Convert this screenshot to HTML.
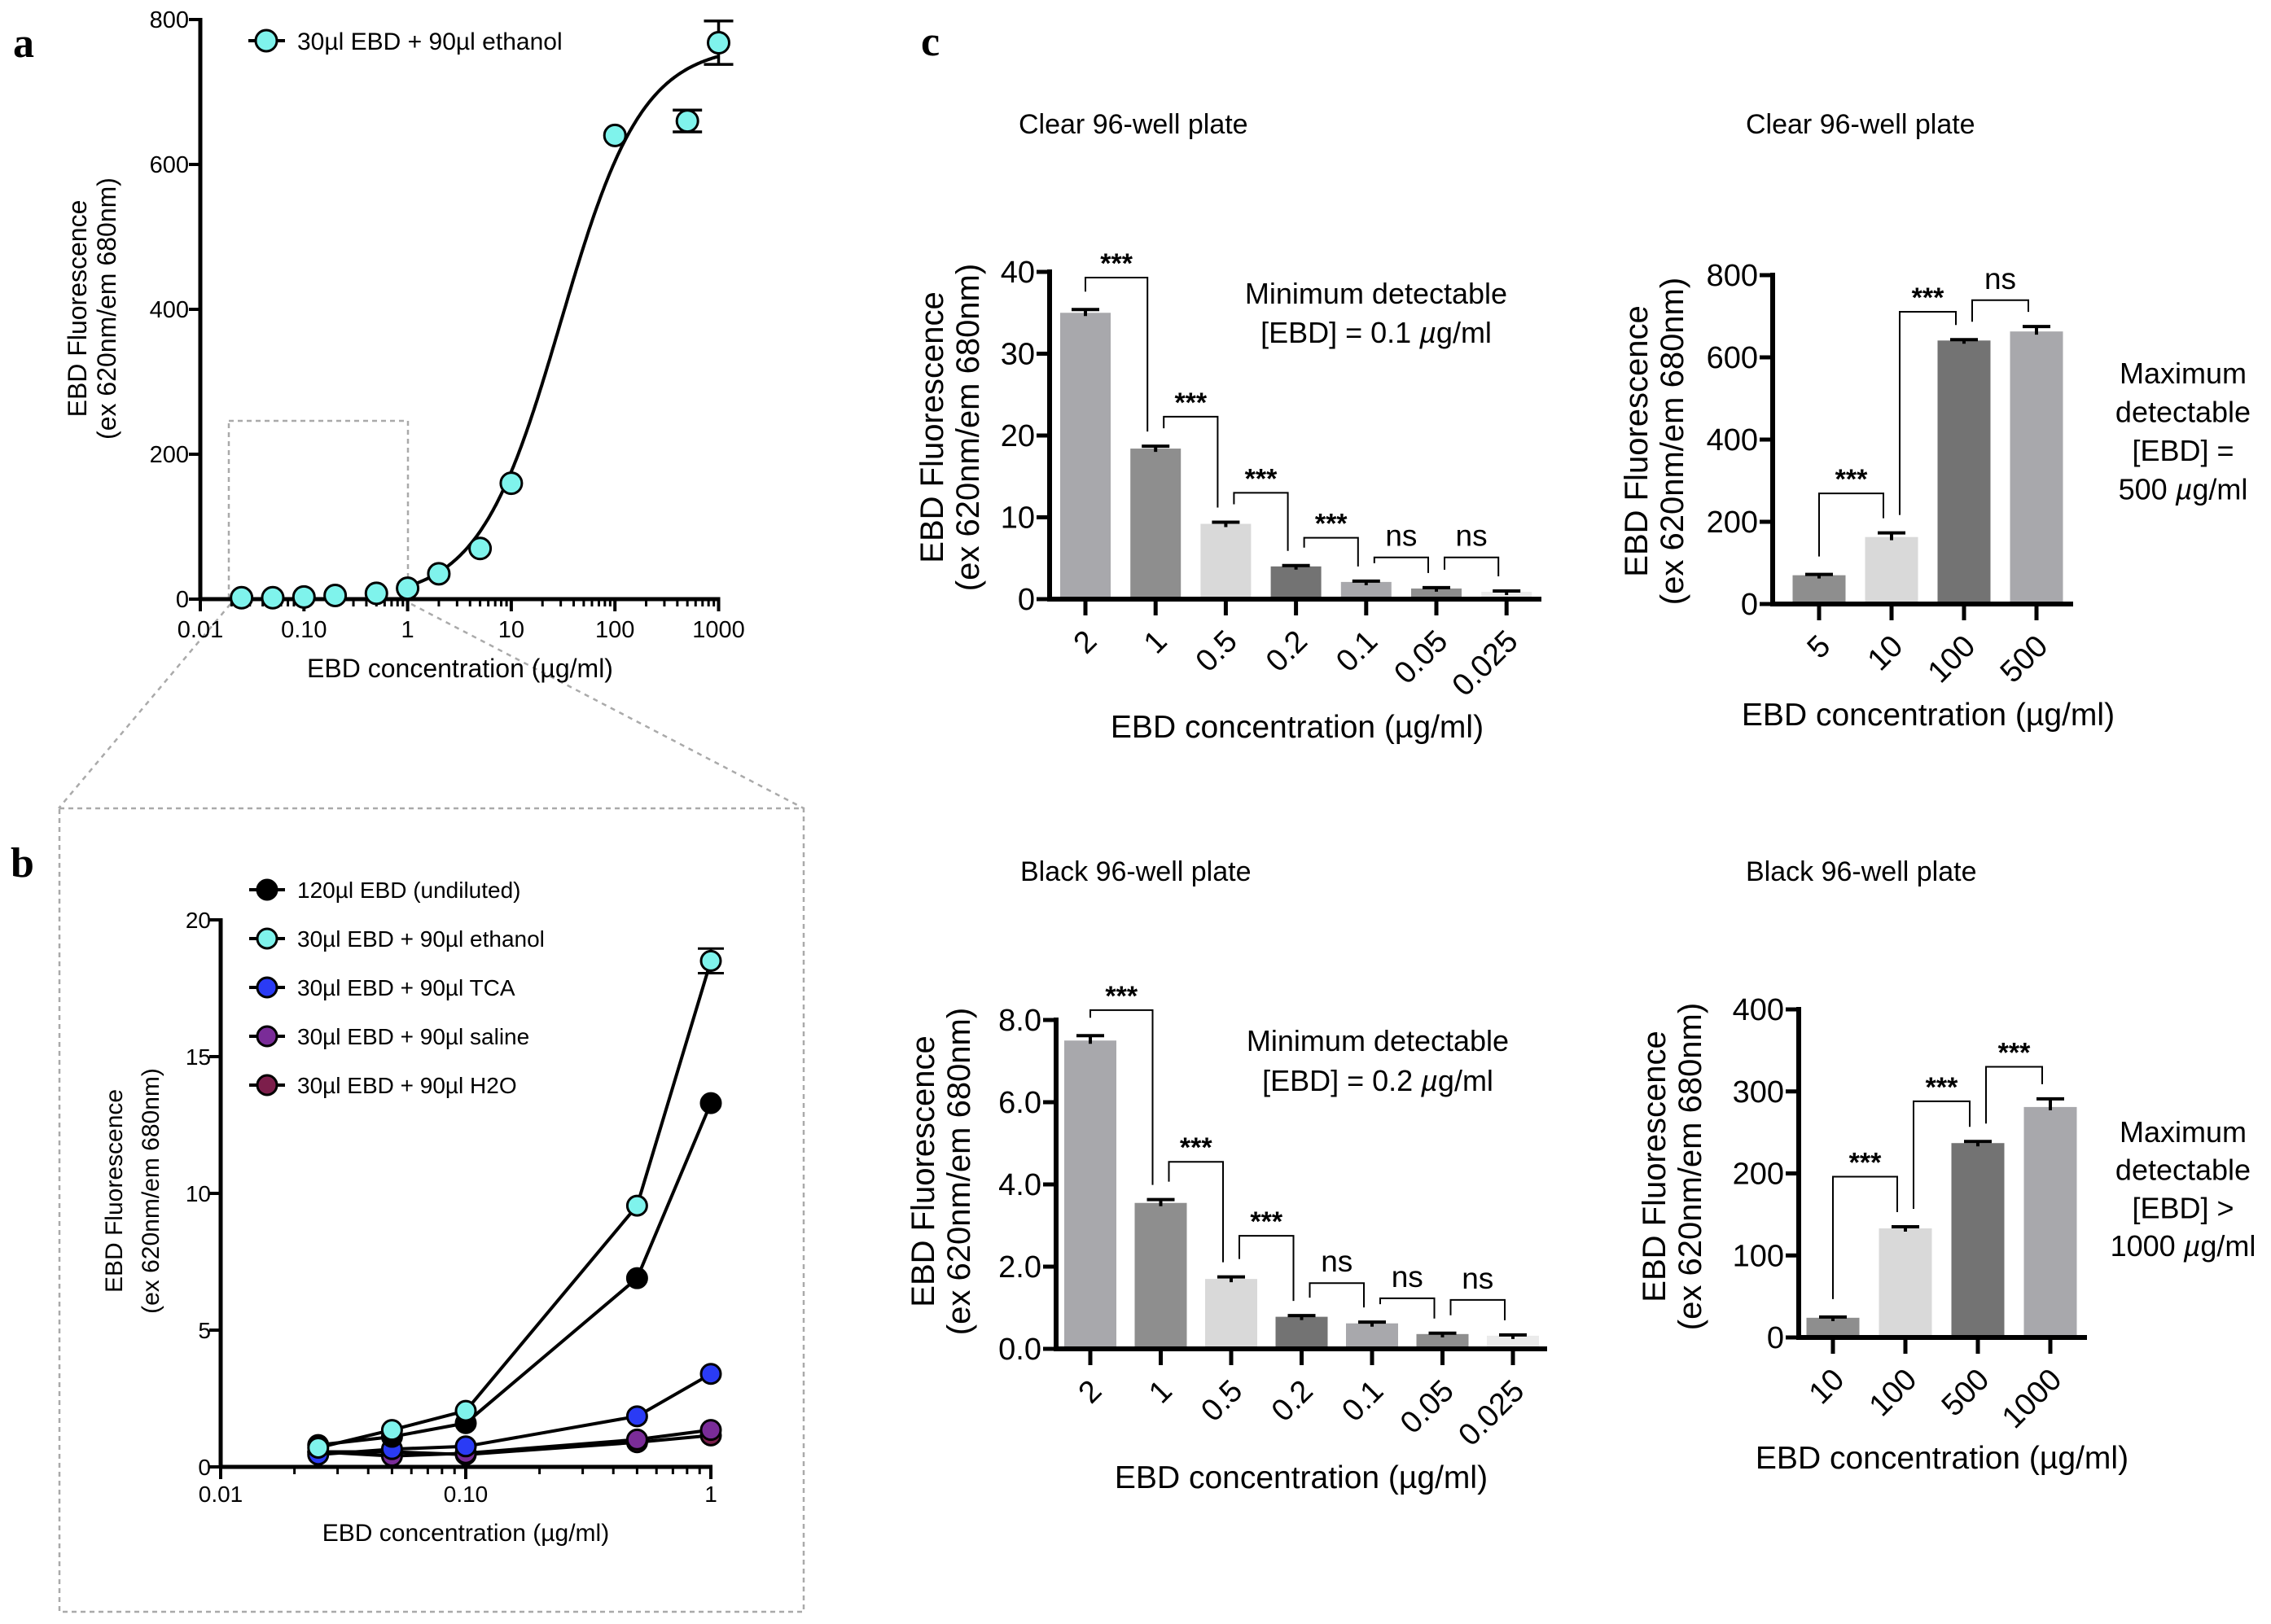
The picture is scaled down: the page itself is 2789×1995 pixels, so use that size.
<!DOCTYPE html>
<html><head><meta charset="utf-8"><style>
html,body{margin:0;padding:0;background:#fff}
svg{display:block}
text{font-family:"Liberation Sans",sans-serif;fill:#000}
text.serif{font-family:"Liberation Serif",serif}
</style></head><body>
<svg id="fig" xmlns="http://www.w3.org/2000/svg" width="2789" height="1995" viewBox="0 0 2789 1995"></svg>
<script>
// ---------- Panel a data ----------
const aConc = [0.025,0.05,0.1,0.2,0.5,1,2,5,10,100,500,1000];
const aFluor = [2,2,3,5,8,15,35,70,160,640,660,768];
const aErr = [0,0,0,0,0,0,0,0,0,0,15,30];
const aFitTop = [765];
const aFitEC50 = [30];
const aFitHill = [1.1];
const aXTicks = [0.01,0.1,1,10,100,1000];
const aXTickLabels = ["0.01","0.10","1","10","100","1000"];
const aYTicks = [0,200,400,600,800];
// ---------- Panel b data ----------
const bConc = [0.025,0.05,0.1,0.5,1];
const bUndiluted = [0.8,1.1,1.6,6.9,13.3];
const bEthanol = [0.7,1.35,2.05,9.55,18.5];
const bTCA = [0.45,0.65,0.75,1.85,3.4];
const bSaline = [0.55,0.4,0.5,1.0,1.35];
const bH2O = [0.55,0.55,0.45,0.9,1.15];
const bEthanolErr = [0,0,0,0,0.45];
const bSeriesNames = ["120µl EBD (undiluted)","30µl EBD + 90µl ethanol","30µl EBD + 90µl TCA","30µl EBD + 90µl saline","30µl EBD + 90µl H2O"];
const bXTicks = [0.01,0.1,1];
const bXTickLabels = ["0.01","0.10","1"];
const bYTicks = [0,5,10,15,20];
// ---------- Panel c data ----------
const c1Cats = ["2","1","0.5","0.2","0.1","0.05","0.025"];
const c1Vals = [35,18.4,9.2,4.0,2.1,1.3,0.9];
const c1Errs = [0.4,0.3,0.2,0.1,0.1,0.1,0.1];
const c1Brackets = [39.3,22.3,13,7.5,5.1,5.1];
const c1Sig = ["***","***","***","***","ns","ns"];
const c1YTicks = [0,10,20,30,40];
const c1YLabels = ["0","10","20","30","40"];

const c2Cats = ["5","10","100","500"];
const c2Vals = [70,163,641,663];
const c2Errs = [2,10,2,12];
const c2Brackets = [269,711,739];
const c2Sig = ["***","***","ns"];
const c2YTicks = [0,200,400,600,800];
const c2YLabels = ["0","200","400","600","800"];

const c3Cats = ["2","1","0.5","0.2","0.1","0.05","0.025"];
const c3Vals = [7.5,3.55,1.7,0.78,0.62,0.36,0.32];
const c3Errs = [0.12,0.08,0.05,0.03,0.03,0.02,0.02];
const c3Brackets = [8.24,4.55,2.75,1.6,1.23,1.19];
const c3Sig = ["***","***","***","ns","ns","ns"];
const c3YTicks = [0,2,4,6,8];
const c3YLabels = ["0.0","2.0","4.0","6.0","8.0"];

const c4Cats = ["10","100","500","1000"];
const c4Vals = [24,133,237,281];
const c4Errs = [1,2,2,10];
const c4Brackets = [196,288,330];
const c4Sig = ["***","***","***"];
const c4YTicks = [0,100,200,300,400];
const c4YLabels = ["0","100","200","300","400"];

const NS = "http://www.w3.org/2000/svg";
const svg = document.getElementById('fig');
function mk(tag, attrs, parent){
  const e = document.createElementNS(NS, tag);
  for (const k in attrs) e.setAttribute(k, attrs[k]);
  (parent||svg).appendChild(e);
  return e;
}
function txt(s, attrs, parent){ const e = mk('text', attrs, parent); e.textContent = s; return e; }
function line(x1,y1,x2,y2,w,parent,dash){
  const a = {x1:x1,y1:y1,x2:x2,y2:y2,stroke:'#000','stroke-width':w};
  if (dash){ a.stroke='#aaa'; a['stroke-dasharray']=dash; }
  return mk('line', a, parent);
}
function rotTitle(lines, cx, cy, size, gap, parent){
  lines.forEach((s,i)=>{
    const x = cx + i*gap;
    const t = txt(s,{x:0,y:0,'text-anchor':'middle','font-size':size,transform:`translate(${x},${cy}) rotate(-90)`},parent);
    
    
  });
}
const log10 = Math.log10;

// ---------- decorations ----------
let e;
e = txt('a',{x:16,y:70,'font-size':52,'font-weight':'bold','class':'serif'});
 
e = txt('b',{x:13,y:1077,'font-size':52,'font-weight':'bold','class':'serif'});
 
e = txt('c',{x:1131,y:68,'font-size':52,'font-weight':'bold','class':'serif'});
 

e = mk('rect',{x:281,y:517,width:220,height:219,fill:'none',stroke:'#aaa','stroke-width':2.5,'stroke-dasharray':'6,5'});
 
e = line(283,742,72,993,2.5,null,'6,6');
 
e = line(505,742,987,993,2.5,null,'6,6');
 
e = mk('rect',{x:73,y:993,width:914,height:987,fill:'none',stroke:'#aaa','stroke-width':2.5,'stroke-dasharray':'6,5'});
 

// ---------- Panel a ----------
(function(){
  const g = mk('g',{});
   
  const x0=246, dec=127.3, y0=736, ytop=24, ymax=800;
  const X = v => x0 + dec*log10(v/0.01);
  const Y = v => y0 - v*(y0-ytop)/ymax;
  let ax = line(x0,ytop-2,x0,y0+2,5,g);  
  ax = line(x0-2,y0,X(1000)+2,y0,5,g);  
  aYTicks.forEach(v=>{
    const t=line(x0-14,Y(v),x0,Y(v),4,g);  
    const l=txt(String(v),{x:x0-14,y:Y(v)+10,'text-anchor':'end','font-size':29},g);  
  });
  for(let d=-2; d<3; d++){ for(let m=2;m<10;m++){ const v=m*Math.pow(10,d);
    const t=line(X(v),y0,X(v),y0+9,3,g);   } }
  aXTicks.forEach((v,i)=>{
    const t=line(X(v),y0,X(v),y0+15,4,g);  
    const l=txt(aXTickLabels[i],{x:X(v),y:y0+47,'text-anchor':'middle','font-size':29},g);  
  });
  let tt = txt('EBD concentration (µg/ml)',{x:565,y:832,'text-anchor':'middle','font-size':32},g);
   
  rotTitle(['EBD Fluorescence','(ex 620nm/em 680nm)'],106,379,32,36,g);
  let d='';
  for(let k=0;k<=200;k++){ const lv = log10(0.9) + k*(log10(1000)-log10(0.9))/200; const v=Math.pow(10,lv);
    const y = aFitTop[0]/(1+Math.pow(aFitEC50[0]/v,aFitHill[0])); d += (k?'L':'M')+X(v).toFixed(1)+','+Y(y).toFixed(1); }
  const c = mk('path',{d:d,fill:'none',stroke:'#000','stroke-width':4},g);
   
  aConc.forEach((v,i)=>{
    if(aErr[i]>0){
      const eb=mk('path',{d:`M${X(v)-18},${Y(aFluor[i]+aErr[i])}H${X(v)+18}M${X(v)},${Y(aFluor[i]+aErr[i])}V${Y(aFluor[i]-aErr[i])}M${X(v)-18},${Y(aFluor[i]-aErr[i])}H${X(v)+18}`,stroke:'#000','stroke-width':3.5,fill:'none'},g);
       
    }
    const p=mk('circle',{cx:X(v),cy:Y(aFluor[i]),r:13,fill:'#7ff3ec',stroke:'#000','stroke-width':3},g);
     
  });
  const lg = mk('g',{},g);  
  line(305,50,350,50,4,lg);
  mk('circle',{cx:327,cy:50,r:13,fill:'#7ff3ec',stroke:'#000','stroke-width':3},lg);
  txt('30µl EBD + 90µl ethanol',{x:365,y:61,'font-size':30},lg);
})();

// ---------- Panel b ----------
(function(){
  const g = mk('g',{});
   
  const x0=271, dec=301, y0=1802, ytop=1130, ymax=20;
  const X = v => x0 + dec*log10(v/0.01);
  const Y = v => y0 - v*(y0-ytop)/ymax;
  let ax=line(x0,ytop-2,x0,y0+2,5,g);  
  ax=line(x0-2,y0,X(1)+2,y0,5,g);  
  bYTicks.forEach(v=>{
    const t=line(x0-14,Y(v),x0,Y(v),4,g);  
    const l=txt(String(v),{x:x0-12,y:Y(v)+10,'text-anchor':'end','font-size':28},g);  
  });
  for(let d=-2; d<0; d++){ for(let m=2;m<10;m++){ const v=m*Math.pow(10,d);
    const t=line(X(v),y0,X(v),y0+9,3,g);   } }
  bXTicks.forEach((v,i)=>{
    const t=line(X(v),y0,X(v),y0+15,4,g);  
    const l=txt(bXTickLabels[i],{x:X(v),y:y0+43,'text-anchor':'middle','font-size':28},g);  
  });
  let tt=txt('EBD concentration (µg/ml)',{x:572,y:1893,'text-anchor':'middle','font-size':30},g);
   
  rotTitle(['EBD Fluorescence','(ex 620nm/em 680nm)'],150,1463,30,45,g);
  const series = [bH2O,bSaline,bTCA,bUndiluted,bEthanol];
  const colors = ['#7c1e4b','#7a2c98','#2a3bf5','#000000','#7ff3ec'];
  series.forEach((s,si)=>{
    const sg = mk('g',{},g);  
    const pts = bConc.map((v,i)=>X(v).toFixed(1)+','+Y(s[i]).toFixed(1)).join(' ');
    mk('polyline',{points:pts,fill:'none',stroke:'#000','stroke-width':4},sg);
    if(s===bEthanol){ bConc.forEach((v,i)=>{ if(bEthanolErr[i]>0){
      const eb=mk('path',{d:`M${X(v)-16},${Y(s[i]+bEthanolErr[i])}H${X(v)+16}M${X(v)},${Y(s[i]+bEthanolErr[i])}V${Y(s[i]-bEthanolErr[i])}M${X(v)-16},${Y(s[i]-bEthanolErr[i])}H${X(v)+16}`,stroke:'#000','stroke-width':3,fill:'none'},sg);
        } }); }
    bConc.forEach((v,i)=>{
      const p=mk('circle',{cx:X(v),cy:Y(s[i]),r:12,fill:colors[si],stroke:'#000','stroke-width':3},sg);
       
    });
  });
  const lcol = ['#000000','#7ff3ec','#2a3bf5','#7a2c98','#7c1e4b'];
  const ly = [1093,1153,1213,1273,1333];
  bSeriesNames.forEach((n,i)=>{
    const lg=mk('g',{},g);  
    line(306,ly[i],350,ly[i],4,lg);
    mk('circle',{cx:328,cy:ly[i],r:12,fill:lcol[i],stroke:'#000','stroke-width':3},lg);
    txt(n,{x:365,y:ly[i]+10,'font-size':28},lg);
  });
})();

// ---------- Panel c ----------
const barCols7 = ['#a8a8ac','#8e8e8e','#d9d9d9','#737373','#a8a8ac','#8e8e8e','#ebebeb'];
const barCols4 = ['#8e8e8e','#d9d9d9','#737373','#a8a8ac'];
function barChart(cfg){
  const g = mk('g',{});
   
  const Y = v => cfg.y0 - v*(cfg.y0-cfg.ytop)/cfg.ymax;
  const X = i => cfg.first + i*cfg.step;
  const bw = cfg.bw;
  cfg.vals.forEach((v,i)=>{
    const b=mk('rect',{x:X(i)-bw/2,y:Y(v),width:bw,height:cfg.y0-Y(v),fill:cfg.cols[i]},g);
     
    const eb=mk('path',{d:`M${X(i)-17},${Y(v+cfg.errs[i])}H${X(i)+17}M${X(i)},${Y(v+cfg.errs[i])}V${Y(v)+4}`,stroke:'#000','stroke-width':4,fill:'none'},g);
     
  });
  let ax=line(cfg.ax,cfg.ytop-3,cfg.ax,cfg.y0+3,6,g);  
  ax=line(cfg.ax-3,cfg.y0,cfg.xend,cfg.y0,6,g);  
  cfg.yticks.forEach((v,i)=>{
    const t=line(cfg.ax-16,Y(v),cfg.ax,Y(v),5,g);  
    const l=txt(cfg.ylabels[i],{x:cfg.ax-18,y:Y(v)+13,'text-anchor':'end','font-size':38},g);
     
  });
  cfg.cats.forEach((c,i)=>{
    const t=line(X(i),cfg.y0,X(i),cfg.y0+20,5,g);  
    const l=txt(c,{x:0,y:0,'text-anchor':'end','font-size':38,transform:`translate(${X(i)+16},${cfg.y0+54}) rotate(-45)`},g);
     
  });
  cfg.brackets.forEach((lv,i)=>{
    const yb=Y(lv);
    const xl = X(i) + (i===0?0:10), xr = X(i+1) - 10;
    const yl = Y(cfg.vals[i]+cfg.errs[i]) - 22, yr = Y(cfg.vals[i+1]+cfg.errs[i+1]) - 18;
    const br=mk('path',{d:`M${xl},${yl}V${yb}H${xr}V${yr}`,fill:'none',stroke:'#000','stroke-width':2},g);
     
    const isNs = cfg.sig[i]==='ns';
    const l=txt(cfg.sig[i],{x:(xl+xr)/2,y:isNs?yb-14:yb-6,'text-anchor':'middle','font-size':isNs?37:34,'font-weight':isNs?'normal':'bold'},g);
     
  });
  let t=txt(cfg.title,{x:cfg.titleX,y:cfg.titleY,'font-size':34},g);
   
  t=txt('EBD concentration (µg/ml)',{x:cfg.xtX,y:cfg.xtY,'text-anchor':'middle','font-size':39},g);
   
  rotTitle(['EBD Fluorescence','(ex 620nm/em 680nm)'],cfg.ytX,cfg.ytY,40,44,g);
  cfg.note.forEach((s,i)=>{
    const n=txt('',{x:cfg.noteX,y:cfg.noteY+i*cfg.noteGap,'text-anchor':'middle','font-size':36},g);
     
    const parts = s.split('µ');
    if(parts.length>1){
      const a=mk('tspan',{},n); a.textContent=parts[0];
      const m=mk('tspan',{'font-style':'italic'},n); m.textContent='µ';
      const b=mk('tspan',{},n); b.textContent=parts[1];
    } else n.textContent=s;
  });
}
barChart({name:'chart-clear-plate-low',cats:c1Cats,vals:c1Vals,errs:c1Errs,brackets:c1Brackets,sig:c1Sig,yticks:c1YTicks,ylabels:c1YLabels,cols:barCols7,
  ax:1289,y0:736,ytop:334,ymax:40,first:1333,step:86.2,bw:62,xend:1893,
  title:'Clear 96-well plate',titleX:1251,titleY:164,xtX:1593,xtY:906,ytX:1158,ytY:525,
  note:['Minimum detectable','[EBD] = 0.1 µg/ml'],noteX:1690,noteY:373,noteGap:48});
barChart({name:'chart-clear-plate-high',cats:c2Cats,vals:c2Vals,errs:c2Errs,brackets:c2Brackets,sig:c2Sig,yticks:c2YTicks,ylabels:c2YLabels,cols:barCols4,
  ax:2177,y0:742,ytop:338,ymax:800,first:2234,step:89,bw:65,xend:2546,
  title:'Clear 96-well plate',titleX:2144,titleY:164,xtX:2368,xtY:891,ytX:2023,ytY:542,
  note:['Maximum','detectable','[EBD] =','500 µg/ml'],noteX:2681,noteY:471,noteGap:47.5});
barChart({name:'chart-black-plate-low',cats:c3Cats,vals:c3Vals,errs:c3Errs,brackets:c3Brackets,sig:c3Sig,yticks:c3YTicks,ylabels:c3YLabels,cols:barCols7,
  ax:1297,y0:1657,ytop:1253,ymax:8,first:1339,step:86.5,bw:64,xend:1900,
  title:'Black 96-well plate',titleX:1253,titleY:1082,xtX:1598,xtY:1828,ytX:1147,ytY:1439,
  note:['Minimum detectable','[EBD] = 0.2 µg/ml'],noteX:1692,noteY:1291,noteGap:49});
barChart({name:'chart-black-plate-high',cats:c4Cats,vals:c4Vals,errs:c4Errs,brackets:c4Brackets,sig:c4Sig,yticks:c4YTicks,ylabels:c4YLabels,cols:barCols4,
  ax:2209,y0:1643,ytop:1240,ymax:400,first:2251,step:89,bw:65,xend:2563,
  title:'Black 96-well plate',titleX:2144,titleY:1082,xtX:2385,xtY:1804,ytX:2045,ytY:1433,
  note:['Maximum','detectable','[EBD] >','1000 µg/ml'],noteX:2681,noteY:1403,noteGap:46.7});
</script>
</body></html>
